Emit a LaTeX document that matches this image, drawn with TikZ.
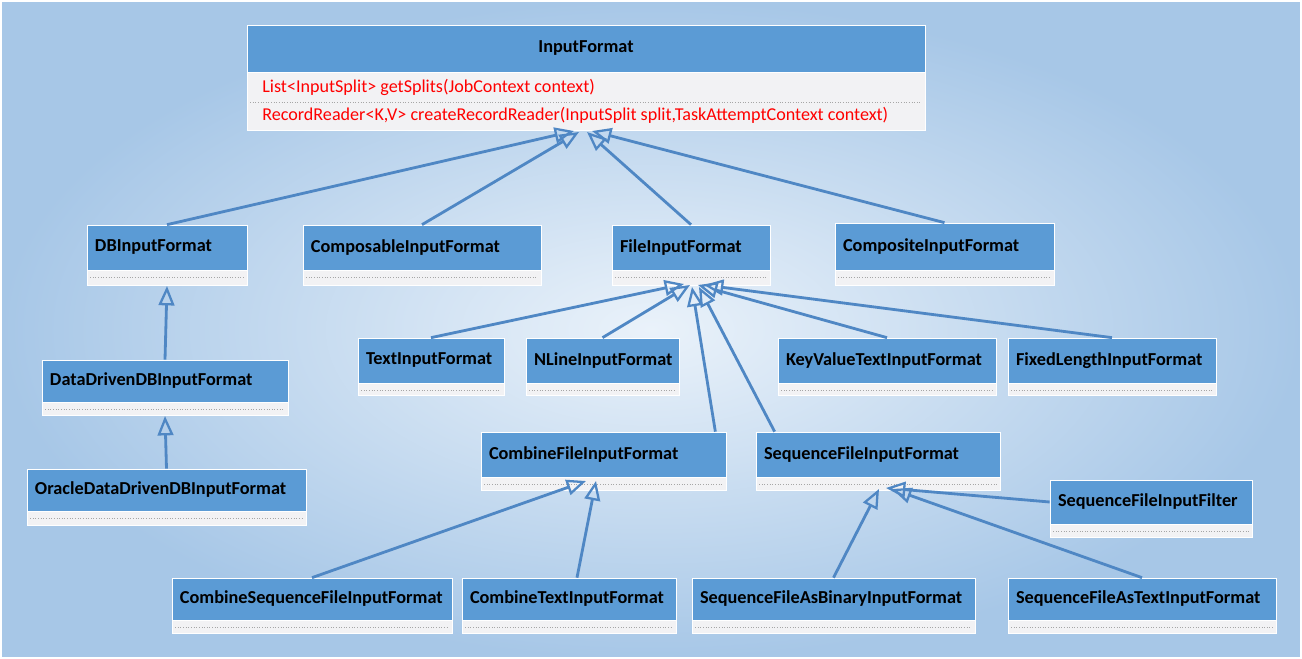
\documentclass[tikz,border=0pt]{standalone}
\usepackage{fontspec}
\setmainfont{Carlito}
\usetikzlibrary{arrows.meta}

\definecolor{hdrblue}{HTML}{5B9BD5}
\definecolor{bodygray}{HTML}{F2F2F4}
\definecolor{linkblue}{HTML}{4F87C4}
\definecolor{bgin}{HTML}{EAF2FA}
\definecolor{bgout}{HTML}{A7C7E7}

\tikzset{
  hdr/.style={fill=hdrblue,draw=white,line width=0.4pt,inner sep=0pt,
    text width=#1,align=left,font=\fontsize{10.4}{12}\selectfont\bfseries},
  bodybox/.style={fill=bodygray,draw=white,line width=0.4pt,inner sep=0pt},
  dotline/.style={draw=gray!70,densely dotted,line width=0.5pt},
  inh/.style={draw=linkblue,line width=1.6pt,
    -{Triangle[open,length=11pt,width=9pt,line width=1.3pt]}},
  meth/.style={text=red,font=\fontsize{10.3}{12}\selectfont,inner sep=0pt,anchor=west}
}

% name, left, top, right, header bottom, bottom, text
\newcommand{\umlclass}[7]{%
  \pgfmathsetmacro\cw{(#4-#2)*0.02}%
  \pgfmathsetmacro\tw{(#4-#2)*0.02-0.32}%
  \pgfmathsetmacro\hh{(#5-#3)*0.02}%
  \pgfmathsetmacro\bh{(#6-#5)*0.02}%
  \node[hdr=\tw cm,minimum width=\cw cm,minimum height=\hh cm] (#1) at ({(#2+#4)/2},{(#3+#5)/2}) {#7};
  \node[bodybox,minimum width=\cw cm,minimum height=\bh cm,anchor=north] (#1b) at (#1.south) {};
  \draw[dotline] ([xshift=2pt,yshift=-4pt]#1b.north west) -- ([xshift=-2pt,yshift=-4pt]#1b.north east);
}

\begin{document}
\begin{tikzpicture}[x=0.02cm,y=-0.02cm]
  \shade[inner color=bgin,outer color=bgout] (0,0) rectangle (1302,659);
  \draw[white,line width=1pt] (1,1) rectangle (1301,658);

  % top class
  \node[fill=hdrblue,draw=white,minimum width=13.56cm,minimum height=0.94cm,inner sep=0pt,
    font=\fontsize{10.4}{12}\selectfont\bfseries] (inf) at (586,48.5) {InputFormat};
  \node[bodybox,minimum width=13.56cm,minimum height=1.16cm,anchor=north] (infb) at (inf.south) {};
  \draw[dotline] (250,102) -- (922,102);
  \node[meth] (m1) at (262,87) {List<InputSplit> getSplits(JobContext context)};
  \node[meth] (m2) at (262,115) {RecordReader<K,V> createRecordReader(InputSplit split,TaskAttemptContext context)};

  \umlclass{db}{87}{225}{247}{270}{285}{DBInputFormat}
  \umlclass{comp}{303}{225}{541}{270}{285}{ComposableInputFormat}
  \umlclass{fif}{612}{225}{770}{270}{285}{FileInputFormat}
  \umlclass{cmpst}{835}{223}{1054}{270}{285}{CompositeInputFormat}
  \umlclass{dd}{42}{360}{288}{402}{415}{DataDrivenDBInputFormat}
  \umlclass{odd}{27}{469}{306}{511}{525}{OracleDataDrivenDBInputFormat}
  \umlclass{text}{358}{338}{504}{383}{395}{TextInputFormat}
  \umlclass{nline}{526}{338}{679}{383}{395}{NLineInputFormat}
  \umlclass{kv}{778}{338}{996}{383}{395}{KeyValueTextInputFormat}
  \umlclass{fixed}{1008}{338}{1216}{383}{395}{FixedLengthInputFormat}
  \umlclass{cfif}{481}{432}{726}{477}{490}{CombineFileInputFormat}
  \umlclass{sfif}{756}{432}{1000}{477}{490}{SequenceFileInputFormat}
  \umlclass{sfilt}{1050}{480}{1252}{524}{537}{SequenceFileInputFilter}
  \umlclass{cseq}{172}{578}{452}{620}{633}{CombineSequenceFileInputFormat}
  \umlclass{ctext}{462}{578}{676}{620}{633}{CombineTextInputFormat}
  \umlclass{sbin}{692}{578}{975}{620}{633}{SequenceFileAsBinaryInputFormat}
  \umlclass{stext}{1008}{578}{1276}{620}{633}{SequenceFileAsTextInputFormat}

  % arrow tips
  \coordinate (t1) at (574,131);
  \coordinate (t2) at (579,132);
  \coordinate (t3) at (587,132);
  \coordinate (t4) at (592,131);
  \coordinate (t5) at (684,284);
  \coordinate (t6) at (690,285);
  \coordinate (t7) at (698,285);
  \coordinate (t8) at (704,285);
  \coordinate (t9) at (692,287);
  \coordinate (t10) at (699,287);
  \coordinate (t11) at (586,481);
  \coordinate (t12) at (596,481);
  \coordinate (t13) at (879,489);
  \coordinate (t14) at (886,488);
  \coordinate (t15) at (892,489);

  \draw[inh] (db.north) -- (t1);
  \draw[inh] (comp.north) -- (t2);
  \draw[inh] (fif.north) -- (t3);
  \draw[inh] (cmpst.north) -- (t4);
  \draw[inh] (dd.north) -- (dbb.south);
  \draw[inh] (odd.north) -- (ddb.south);
  \draw[inh] (text.north) -- (t5);
  \draw[inh] (nline.north) -- (t6);
  \draw[inh] (kv.north) -- (t7);
  \draw[inh] (fixed.north) -- (t8);
  \draw[inh] ([xshift=-0.22cm]cfif.north east) -- (t9);
  \draw[inh] ([xshift=0.38cm]sfif.north west) -- (t10);
  \draw[inh] (cseq.north) -- (t11);
  \draw[inh] ([xshift=0.16cm]ctext.north) -- (t12);
  \draw[inh] (sbin.north) -- (t13);
  \draw[inh] (sfilt.west) -- (t14);
  \draw[inh] (stext.north) -- (t15);
\end{tikzpicture}
\end{document}
